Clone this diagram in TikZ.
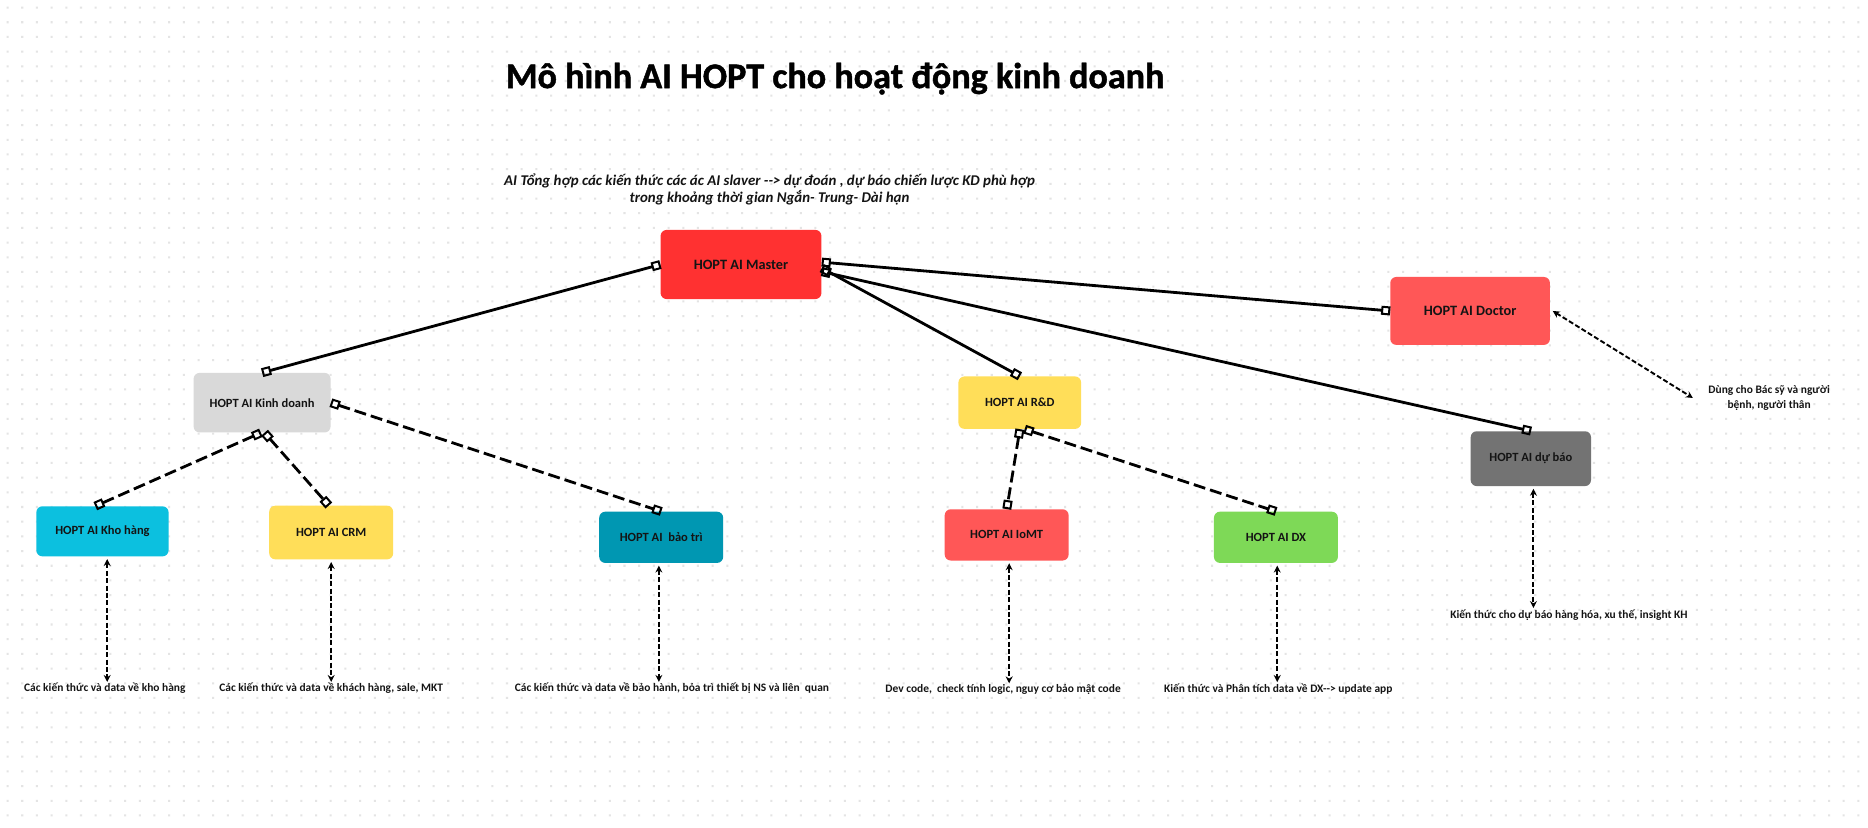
\documentclass[tikz,border=0pt]{standalone}
\usepackage{fontspec}
\setmainfont{Carlito}
\newfontfamily\heavyfont[FakeBold=1.2]{Carlito}
\usetikzlibrary{arrows.meta}
\definecolor{cMaster}{HTML}{FF3131}
\definecolor{cRed}{HTML}{FF5757}
\definecolor{cGray}{HTML}{D9D9D9}
\definecolor{cYellow}{HTML}{FFDE59}
\definecolor{cDark}{HTML}{737373}
\definecolor{cCyan}{HTML}{0CC0DF}
\definecolor{cTeal}{HTML}{0097B2}
\definecolor{cGreen}{HTML}{7ED957}
\definecolor{cDot}{HTML}{E4E4E4}
\definecolor{cInk}{HTML}{141414}
\begin{document}
\begin{tikzpicture}[x=1pt,y=-1pt,scale=1.19133,
  every node/.append style={transform shape},
  box/.style={rounded corners=6pt, inner sep=0pt, text=cInk,
    font=\bfseries\fontsize{10.5}{12}\selectfont},
  bigbox/.style={box, font=\bfseries\fontsize{12}{14}\selectfont},
  note/.style={inner sep=1pt, text=cInk, align=center,
    font=\bfseries\fontsize{9.6}{12}\selectfont},
  solidlink/.style={line width=2.8pt, black,
    {Square[open,length=9pt,width=9pt,line width=2pt]}-{Square[open,length=9pt,width=9pt,line width=2pt]}},
  dashlink/.style={solidlink, dash pattern=on 12pt off 5pt},
  infolink/.style={line width=1.9pt, black, dash pattern=on 5pt off 2.4pt,
    {Stealth[length=7pt,width=7pt]}-{Stealth[length=7pt,width=7pt]}}
]
\useasboundingbox (0,0) rectangle (1568,695);
\fill[white] (0,0) rectangle (1568,695);
% dot grid
\foreach \j in {0,...,56} {
  \fill[cDot] \foreach \i in {0,...,127} { ({5.5+12.33*\i},{5.5+12.33*\j}) rectangle ++(1.7,1.7) };
}

% title and subtitle
\node[font=\heavyfont\bfseries\fontsize{30.3}{34}\selectfont, text=black] (title) at (701,66) {Mô hình AI HOPT cho hoạt động kinh doanh};
\node[align=center, text=cInk, font=\bfseries\itshape\fontsize{12.5}{14}\selectfont] (sub) at (646,159)
  {AI Tổng hợp các kiến thức các ác AI slaver -{}-{}> dự đoán , dự báo chiến lược KD phù hợp\\
   trong khoảng thời gian Ngắn- Trung- Dài hạn};

% boxes
\node[bigbox, fill=cMaster, minimum width=135, minimum height=58] (master) at (622,222) {HOPT AI Master};
\node[bigbox, fill=cRed, minimum width=134, minimum height=57] (doctor) at (1234,261) {HOPT AI Doctor};
\node[box, fill=cGray, minimum width=115, minimum height=50] (kd) at (220,338) {HOPT AI Kinh doanh};
\node[box, fill=cYellow, minimum width=103, minimum height=44] (rd) at (856,338) {HOPT AI R\&D};
\node[box, fill=cDark, minimum width=101, minimum height=46] (db) at (1285,385) {HOPT AI dự báo};
\node[box, fill=cCyan, minimum width=111, minimum height=42] (kho) at (86,446) {HOPT AI Kho hàng};
\node[box, fill=cYellow, minimum width=104, minimum height=45] (crm) at (278,447) {HOPT AI CRM};
\node[box, fill=cTeal, minimum width=104, minimum height=43] (bt) at (555,451) {HOPT AI\ \ bảo trì};
\node[box, fill=cRed, minimum width=104, minimum height=43] (iomt) at (845,449) {HOPT AI IoMT};
\node[box, fill=cGreen, minimum width=104, minimum height=43] (dx) at (1071,451) {HOPT AI DX};

% notes
\node[note] (nkho) at (88,578) {Các kiến thức và data về kho hàng};
\node[note] (ncrm) at (278,578) {Các kiến thức và data về khách hàng, sale, MKT};
\node[note] (nbt) at (564,578) {Các kiến thức và data về bảo hành, bỏa trì thiết bị NS và liên\ \ quan};
\node[note] (niomt) at (842,579) {Dev code,\ \ check tính logic, nguy cơ bảo mật code};
\node[note] (ndx) at (1073,578) {Kiến thức và Phân tích data về DX-{}-{}> update app};
\node[note] (ndb) at (1317,516) {Kiến thức cho dự báo hàng hóa, xu thế, insight KH};
\node[note, font=\bfseries\fontsize{9.6}{13}\selectfont] (ndoc) at (1485,334) {Dùng cho Bác sỹ và người\\ bệnh, người thân};

% master links
\draw[solidlink] (master.west) -- (kd.north);
\draw[solidlink] ([yshift=2]master.east) -- (doctor.west);
\draw[solidlink] ([yshift=-3]master.east) -- (rd.north);
\draw[solidlink] ([yshift=-6]master.east) -- (db.north);

% dashed links
\draw[dashlink] ([xshift=-1]kd.south) -- ([xshift=-6]kho.north);
\draw[dashlink] ([xshift=2]kd.south) -- ([xshift=-2]crm.north);
\draw[dashlink] (kd.east) -- (bt.north);
\draw[dashlink] (rd.south) -- (iomt.north);
\draw[dashlink] ([xshift=4]rd.south) -- (dx.north);

% info arrows
\draw[infolink] ([xshift=4,yshift=-2]kho.south) -- ([xshift=4]kho.south |- nkho.north);
\draw[infolink] ([yshift=-2]crm.south) -- (crm.south |- ncrm.north);
\draw[infolink] ([xshift=-2,yshift=-2]bt.south) -- ([xshift=-2]bt.south |- nbt.north);
\draw[infolink] ([xshift=2,yshift=-2]iomt.south) -- ([xshift=2]iomt.south |- niomt.north);
\draw[infolink] ([xshift=1,yshift=-2]dx.south) -- ([xshift=1]dx.south |- ndx.north);
\draw[infolink] ([xshift=2,yshift=-2]db.south) -- ([xshift=2]db.south |- ndb.north);
\draw[infolink] ([xshift=2]doctor.east) -- ([xshift=-12]ndoc.west);
\end{tikzpicture}
\end{document}
